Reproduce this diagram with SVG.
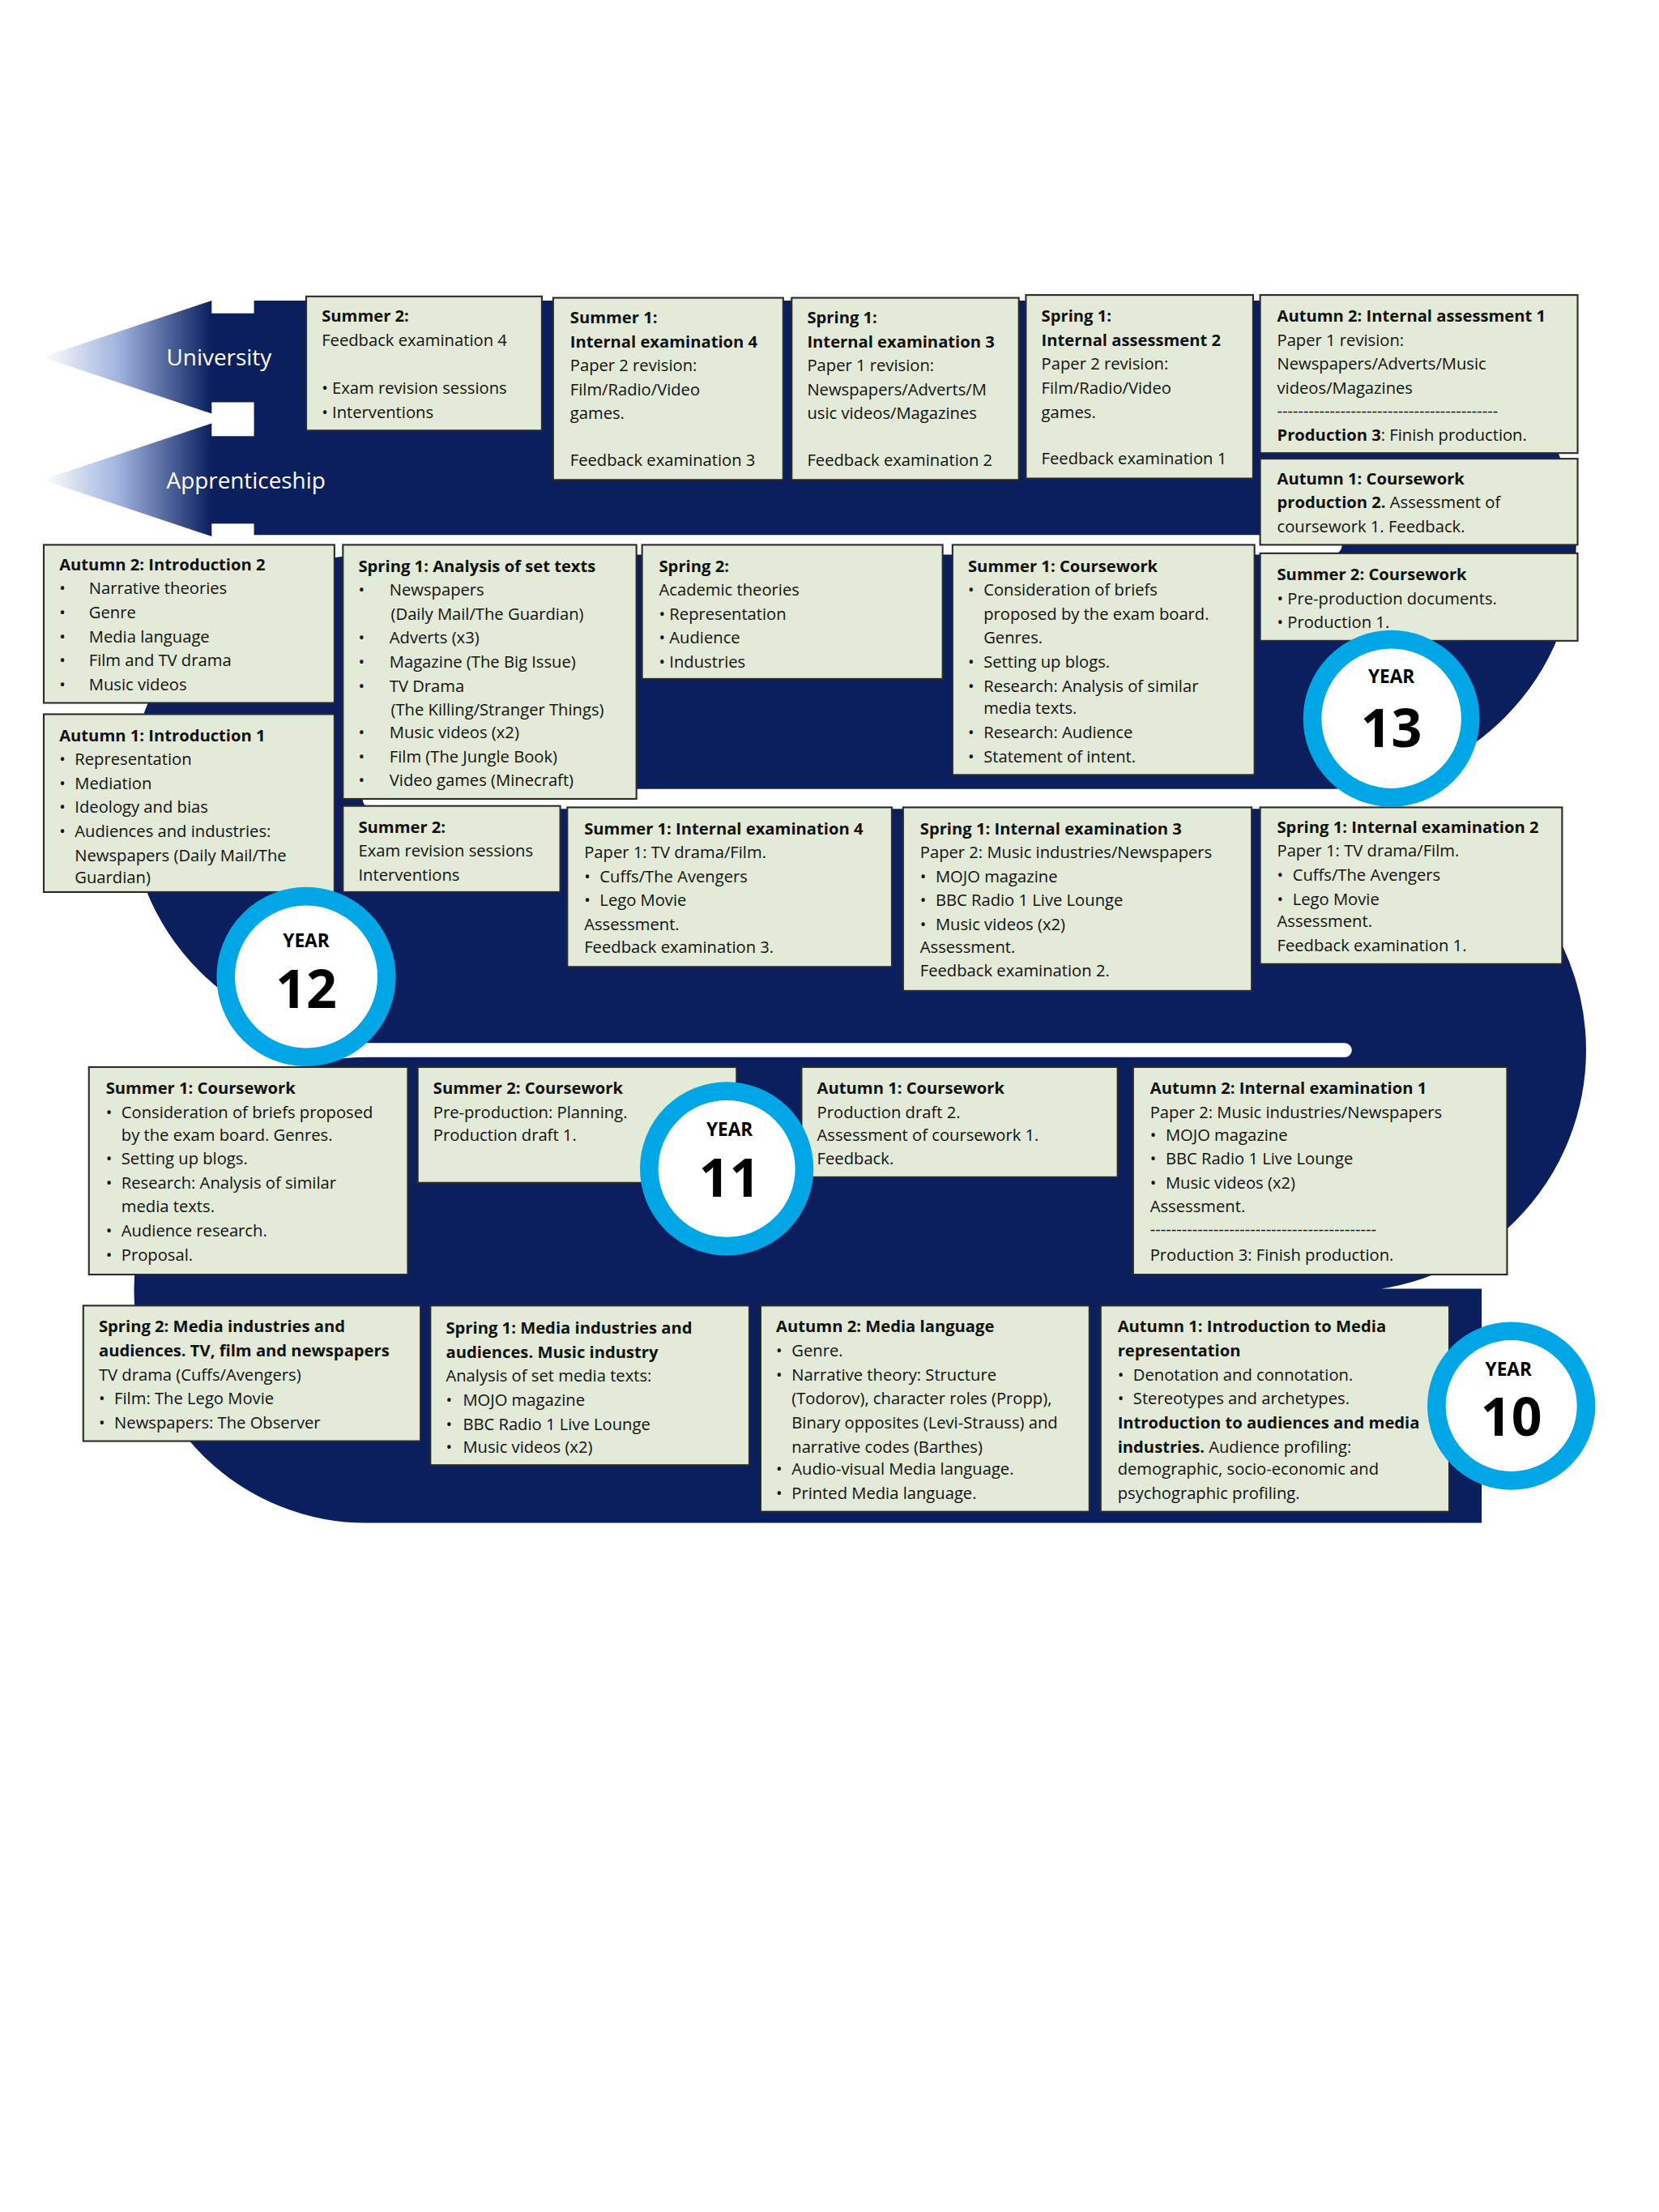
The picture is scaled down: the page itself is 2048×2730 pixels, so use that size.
<svg xmlns="http://www.w3.org/2000/svg" width="2048" height="2730" viewBox="0 0 2048 2730">
<style>
.t{font-family:"Open Sans","Liberation Sans",sans-serif;font-size:11.6px;fill:#111}
.b{font-weight:bold}
.box{fill:#e3ebd8;stroke:#2a2a2a;stroke-width:1.2}
.lab{font-family:"Open Sans","Liberation Sans",sans-serif;font-size:16px;fill:#fff}
.yr{font-family:"Open Sans","Liberation Sans",sans-serif;font-weight:bold;fill:#000;text-anchor:middle}
</style>
<defs>
<linearGradient id="ag" gradientUnits="userSpaceOnUse" x1="30" y1="0" x2="150" y2="0">
<stop offset="0" stop-color="#ffffff"/><stop offset="0.45" stop-color="#9fb4de"/><stop offset="1" stop-color="#0b1f5f"/>
</linearGradient>
</defs>
<rect width="2048" height="2730" fill="#fff"/>
<g transform="scale(1.742)">
<g id="band">
<path d="M180 296 H944 A90 90 0 0 1 944 476 H264 A90 90 0 0 0 264 656 H953 A88 88 0 0 1 953 832 H260 A82 82 0 0 0 260 996 H1050" fill="none" stroke="#0b1f5f" stroke-width="166"/>
<polygon points="30,253 150,213 150,293" fill="url(#ag)"/>
<polygon points="30,340 150,300 150,380" fill="url(#ag)"/>
<rect x="149" y="222" width="33" height="63" fill="#0b1f5f"/>
<rect x="149" y="309" width="33" height="62" fill="#0b1f5f"/>
<text class="lab" x="118" y="259">University</text>
<text class="lab" x="118" y="346">Apprenticeship</text>
</g>
<g id="n1"><rect class="box" x="217" y="210" width="167" height="95"/><text class="t"><tspan class="b" x="228" y="228">Summer 2:</tspan><tspan x="228" y="245">Feedback examination 4</tspan><tspan x="228" y="279">• Exam revision sessions</tspan><tspan x="228" y="296">• Interventions</tspan></text></g>
<g id="n2"><rect class="box" x="392" y="211" width="163" height="129"/><text class="t"><tspan class="b" x="404" y="229">Summer 1:</tspan><tspan class="b" x="404" y="246">Internal examination 4</tspan><tspan x="404" y="263">Paper 2 revision:</tspan><tspan x="404" y="280">Film/Radio/Video</tspan><tspan x="404" y="297">games.</tspan><tspan x="404" y="330">Feedback examination 3</tspan></text></g>
<g id="n3"><rect class="box" x="561" y="211" width="161" height="129"/><text class="t"><tspan class="b" x="572" y="229">Spring 1:</tspan><tspan class="b" x="572" y="246">Internal examination 3</tspan><tspan x="572" y="263">Paper 1 revision:</tspan><tspan x="572" y="280">Newspapers/Adverts/M</tspan><tspan x="572" y="297">usic videos/Magazines</tspan><tspan x="572" y="330">Feedback examination 2</tspan></text></g>
<g id="n4"><rect class="box" x="727" y="209" width="161" height="130"/><text class="t"><tspan class="b" x="738" y="228">Spring 1:</tspan><tspan class="b" x="738" y="245">Internal assessment 2</tspan><tspan x="738" y="262">Paper 2 revision:</tspan><tspan x="738" y="279">Film/Radio/Video</tspan><tspan x="738" y="296">games.</tspan><tspan x="738" y="329">Feedback examination 1</tspan></text></g>
<g id="n5"><rect class="box" x="893" y="209" width="225" height="112"/><text class="t"><tspan class="b" x="905" y="228">Autumn 2: Internal assessment 1</tspan><tspan x="905" y="245">Paper 1 revision:</tspan><tspan x="905" y="262">Newspapers/Adverts/Music</tspan><tspan x="905" y="279">videos/Magazines</tspan><tspan x="905" y="295">------------------------------------------</tspan><tspan class="b" x="905" y="312">Production 3</tspan><tspan>: Finish production.</tspan></text></g>
<g id="n6"><rect class="box" x="893" y="325" width="225" height="61"/><text class="t"><tspan class="b" x="905" y="343">Autumn 1: Coursework</tspan><tspan class="b" x="905" y="360">production 2.</tspan><tspan> Assessment of</tspan><tspan x="905" y="377">coursework 1. Feedback.</tspan></text></g>
<g id="n7"><rect class="box" x="893" y="392" width="225" height="62"/><text class="t"><tspan class="b" x="905" y="411">Summer 2: Coursework</tspan><tspan x="905" y="428">• Pre-production documents.</tspan><tspan x="905" y="445">• Production 1.</tspan></text></g>
<g id="n8"><rect class="box" x="31" y="386" width="206" height="112"/><text class="t"><tspan class="b" x="42" y="404">Autumn 2: Introduction 2</tspan><tspan x="42" y="421">•</tspan><tspan x="63">Narrative theories</tspan><tspan x="42" y="438">•</tspan><tspan x="63">Genre</tspan><tspan x="42" y="455">•</tspan><tspan x="63">Media language</tspan><tspan x="42" y="472">•</tspan><tspan x="63">Film and TV drama</tspan><tspan x="42" y="489">•</tspan><tspan x="63">Music videos</tspan></text></g>
<g id="n9"><rect class="box" x="243" y="386" width="208" height="180"/><text class="t"><tspan class="b" x="254" y="405">Spring 1: Analysis of set texts</tspan><tspan x="254" y="422">•</tspan><tspan x="276">Newspapers</tspan><tspan x="277" y="439">(Daily Mail/The Guardian)</tspan><tspan x="254" y="456">•</tspan><tspan x="276">Adverts (x3)</tspan><tspan x="254" y="473">•</tspan><tspan x="276">Magazine (The Big Issue)</tspan><tspan x="254" y="490">•</tspan><tspan x="276">TV Drama</tspan><tspan x="277" y="507">(The Killing/Stranger Things)</tspan><tspan x="254" y="523">•</tspan><tspan x="276">Music videos (x2)</tspan><tspan x="254" y="540">•</tspan><tspan x="276">Film (The Jungle Book)</tspan><tspan x="254" y="557">•</tspan><tspan x="276">Video games (Minecraft)</tspan></text></g>
<g id="n10"><rect class="box" x="455" y="386" width="213" height="95"/><text class="t"><tspan class="b" x="467" y="405">Spring 2:</tspan><tspan x="467" y="422">Academic theories</tspan><tspan x="467" y="439">• Representation</tspan><tspan x="467" y="456">• Audience</tspan><tspan x="467" y="473">• Industries</tspan></text></g>
<g id="n11"><rect class="box" x="675" y="386" width="214" height="163"/><text class="t"><tspan class="b" x="686" y="405">Summer 1: Coursework</tspan><tspan x="686" y="422">•</tspan><tspan x="697">Consideration of briefs</tspan><tspan x="697" y="439">proposed by the exam board.</tspan><tspan x="697" y="456">Genres.</tspan><tspan x="686" y="473">•</tspan><tspan x="697">Setting up blogs.</tspan><tspan x="686" y="490">•</tspan><tspan x="697">Research: Analysis of similar</tspan><tspan x="697" y="506">media texts.</tspan><tspan x="686" y="523">•</tspan><tspan x="697">Research: Audience</tspan><tspan x="686" y="540">•</tspan><tspan x="697">Statement of intent.</tspan></text></g>
<g id="n12"><rect class="box" x="31" y="506" width="206" height="126"/><text class="t"><tspan class="b" x="42" y="525">Autumn 1: Introduction 1</tspan><tspan x="42" y="542">•</tspan><tspan x="53">Representation</tspan><tspan x="42" y="559">•</tspan><tspan x="53">Mediation</tspan><tspan x="42" y="576">•</tspan><tspan x="53">Ideology and bias</tspan><tspan x="42" y="593">•</tspan><tspan x="53">Audiences and industries:</tspan><tspan x="53" y="610">Newspapers (Daily Mail/The</tspan><tspan x="53" y="626">Guardian)</tspan></text></g>
<g id="n13"><rect class="box" x="243" y="571" width="154" height="61"/><text class="t"><tspan class="b" x="254" y="590">Summer 2:</tspan><tspan x="254" y="607">Exam revision sessions</tspan><tspan x="254" y="624">Interventions</tspan></text></g>
<g id="n14"><rect class="box" x="402" y="572" width="230" height="113"/><text class="t"><tspan class="b" x="414" y="591">Summer 1: Internal examination 4</tspan><tspan x="414" y="608">Paper 1: TV drama/Film.</tspan><tspan x="414" y="625">•</tspan><tspan x="425">Cuffs/The Avengers</tspan><tspan x="414" y="642">•</tspan><tspan x="425">Lego Movie</tspan><tspan x="414" y="659">Assessment.</tspan><tspan x="414" y="675">Feedback examination 3.</tspan></text></g>
<g id="n15"><rect class="box" x="640" y="572" width="247" height="130"/><text class="t"><tspan class="b" x="652" y="591">Spring 1: Internal examination 3</tspan><tspan x="652" y="608">Paper 2: Music industries/Newspapers</tspan><tspan x="652" y="625">•</tspan><tspan x="663">MOJO magazine</tspan><tspan x="652" y="642">•</tspan><tspan x="663">BBC Radio 1 Live Lounge</tspan><tspan x="652" y="659">•</tspan><tspan x="663">Music videos (x2)</tspan><tspan x="652" y="675">Assessment.</tspan><tspan x="652" y="692">Feedback examination 2.</tspan></text></g>
<g id="n16"><rect class="box" x="893" y="572" width="214" height="111"/><text class="t"><tspan class="b" x="905" y="590">Spring 1: Internal examination 2</tspan><tspan x="905" y="607">Paper 1: TV drama/Film.</tspan><tspan x="905" y="624">•</tspan><tspan x="916">Cuffs/The Avengers</tspan><tspan x="905" y="641">•</tspan><tspan x="916">Lego Movie</tspan><tspan x="905" y="657">Assessment.</tspan><tspan x="905" y="674">Feedback examination 1.</tspan></text></g>
<g id="n17"><rect class="box" x="63" y="756" width="226" height="147"/><text class="t"><tspan class="b" x="75" y="775">Summer 1: Coursework</tspan><tspan x="75" y="792">•</tspan><tspan x="86">Consideration of briefs proposed</tspan><tspan x="86" y="808">by the exam board. Genres.</tspan><tspan x="75" y="825">•</tspan><tspan x="86">Setting up blogs.</tspan><tspan x="75" y="842">•</tspan><tspan x="86">Research: Analysis of similar</tspan><tspan x="86" y="859">media texts.</tspan><tspan x="75" y="876">•</tspan><tspan x="86">Audience research.</tspan><tspan x="75" y="893">•</tspan><tspan x="86">Proposal.</tspan></text></g>
<g id="n18"><rect class="box" x="296" y="756" width="226" height="82"/><text class="t"><tspan class="b" x="307" y="775">Summer 2: Coursework</tspan><tspan x="307" y="792">Pre-production: Planning.</tspan><tspan x="307" y="808">Production draft 1.</tspan></text></g>
<g id="n19"><rect class="box" x="568" y="756" width="224" height="78"/><text class="t"><tspan class="b" x="579" y="775">Autumn 1: Coursework</tspan><tspan x="579" y="792">Production draft 2.</tspan><tspan x="579" y="808">Assessment of coursework 1.</tspan><tspan x="579" y="825">Feedback.</tspan></text></g>
<g id="n20"><rect class="box" x="803" y="756" width="265" height="147"/><text class="t"><tspan class="b" x="815" y="775">Autumn 2: Internal examination 1</tspan><tspan x="815" y="792">Paper 2: Music industries/Newspapers</tspan><tspan x="815" y="808">•</tspan><tspan x="826">MOJO magazine</tspan><tspan x="815" y="825">•</tspan><tspan x="826">BBC Radio 1 Live Lounge</tspan><tspan x="815" y="842">•</tspan><tspan x="826">Music videos (x2)</tspan><tspan x="815" y="859">Assessment.</tspan><tspan x="815" y="875">-------------------------------------------</tspan><tspan x="815" y="893">Production 3: Finish production.</tspan></text></g>
<g id="n21"><rect class="box" x="59" y="925" width="239" height="96"/><text class="t"><tspan class="b" x="70" y="944">Spring 2: Media industries and</tspan><tspan class="b" x="70" y="961">audiences. TV, film and newspapers</tspan><tspan x="70" y="978">TV drama (Cuffs/Avengers)</tspan><tspan x="70" y="995">•</tspan><tspan x="81">Film: The Lego Movie</tspan><tspan x="70" y="1012">•</tspan><tspan x="81">Newspapers: The Observer</tspan></text></g>
<g id="n22"><rect class="box" x="305" y="925" width="226" height="113"/><text class="t"><tspan class="b" x="316" y="945">Spring 1: Media industries and</tspan><tspan class="b" x="316" y="962">audiences. Music industry</tspan><tspan x="316" y="979">Analysis of set media texts:</tspan><tspan x="316" y="996">•</tspan><tspan x="328">MOJO magazine</tspan><tspan x="316" y="1013">•</tspan><tspan x="328">BBC Radio 1 Live Lounge</tspan><tspan x="316" y="1029">•</tspan><tspan x="328">Music videos (x2)</tspan></text></g>
<g id="n23"><rect class="box" x="539" y="925" width="233" height="146"/><text class="t"><tspan class="b" x="550" y="944">Autumn 2: Media language</tspan><tspan x="550" y="961">•</tspan><tspan x="561">Genre.</tspan><tspan x="550" y="978">•</tspan><tspan x="561">Narrative theory: Structure</tspan><tspan x="561" y="995">(Todorov), character roles (Propp),</tspan><tspan x="561" y="1012">Binary opposites (Levi-Strauss) and</tspan><tspan x="561" y="1029">narrative codes (Barthes)</tspan><tspan x="550" y="1045">•</tspan><tspan x="561">Audio-visual Media language.</tspan><tspan x="550" y="1062">•</tspan><tspan x="561">Printed Media language.</tspan></text></g>
<g id="n24"><rect class="box" x="780" y="925" width="247" height="146"/><text class="t"><tspan class="b" x="792" y="944">Autumn 1: Introduction to Media</tspan><tspan class="b" x="792" y="961">representation</tspan><tspan x="792" y="978">•</tspan><tspan x="803">Denotation and connotation.</tspan><tspan x="792" y="995">•</tspan><tspan x="803">Stereotypes and archetypes.</tspan><tspan class="b" x="792" y="1012">Introduction to audiences and media</tspan><tspan class="b" x="792" y="1029">industries.</tspan><tspan> Audience profiling:</tspan><tspan x="792" y="1045">demographic, socio-economic and</tspan><tspan x="792" y="1062">psychographic profiling.</tspan></text></g>
<g id="y13"><circle cx="986" cy="509" r="56" fill="#fff" stroke="#00a6e6" stroke-width="13"/><text class="yr" x="986" y="484" font-size="13">YEAR</text><text class="yr" x="986" y="529" font-size="38">13</text></g>
<g id="y12"><circle cx="217" cy="692" r="57" fill="#fff" stroke="#00a6e6" stroke-width="13"/><text class="yr" x="217" y="671" font-size="13">YEAR</text><text class="yr" x="217" y="714" font-size="38">12</text></g>
<g id="y11"><circle cx="515" cy="828" r="55" fill="#fff" stroke="#00a6e6" stroke-width="13"/><text class="yr" x="517" y="805" font-size="13">YEAR</text><text class="yr" x="517" y="848" font-size="38">11</text></g>
<g id="y10"><circle cx="1071" cy="996" r="53" fill="#fff" stroke="#00a6e6" stroke-width="13"/><text class="yr" x="1069" y="975" font-size="13">YEAR</text><text class="yr" x="1071" y="1017" font-size="38">10</text></g>
</g>
</svg>
